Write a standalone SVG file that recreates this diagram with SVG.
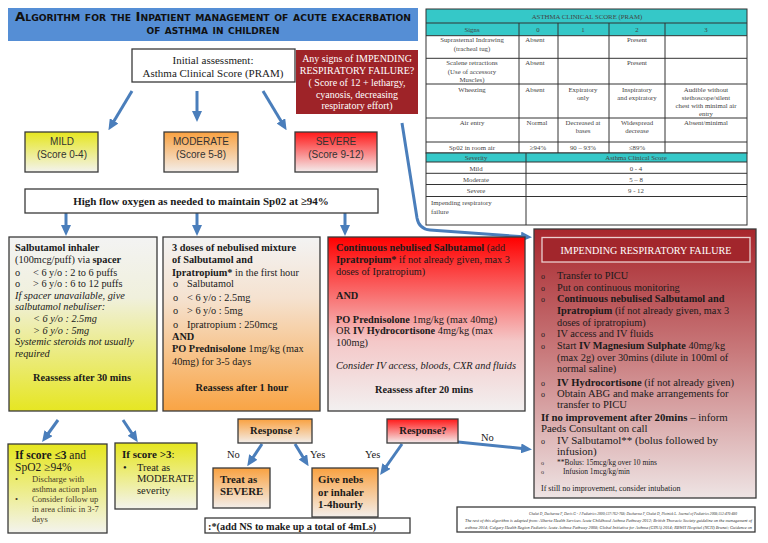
<svg xmlns="http://www.w3.org/2000/svg" width="768" height="543" viewBox="0 0 768 543" font-size="10.3">
<defs>
<style>
.t{font-family:"Liberation Serif","DejaVu Serif",serif;fill:#1a1a1a}
.b{font-weight:bold}
.i{font-style:italic}
.s{font-family:"Liberation Sans","DejaVu Sans",sans-serif;font-size:10px;fill:#333}
.c{text-anchor:middle}
.tt{font-family:"Liberation Serif","DejaVu Serif",serif;font-size:6.8px;fill:#444}
.box{stroke:#3a3a3a;stroke-width:1.3}
.grid{stroke:#333;stroke-width:1;fill:none}
.arr{stroke:#4a7ebb;stroke-width:3;fill:none;marker-end:url(#ah)}
.w{fill:#fff}
</style>
<marker id="ah" markerUnits="userSpaceOnUse" markerWidth="11" markerHeight="10" refX="6" refY="5" orient="auto">
<path d="M0,0 L11,5 L0,10 z" fill="#4a7ebb"/>
</marker>
<linearGradient id="gYT" x1="0" y1="0" x2="0" y2="1"><stop offset="0" stop-color="#e6e61e"/><stop offset="1" stop-color="#f3f3ee"/></linearGradient>
<linearGradient id="gYB" x1="0" y1="0" x2="0" y2="1"><stop offset="0" stop-color="#f3f3f3"/><stop offset="0.35" stop-color="#f0f0dc"/><stop offset="1" stop-color="#e6e622"/></linearGradient>
<linearGradient id="gOT" x1="0" y1="0" x2="0" y2="1"><stop offset="0" stop-color="#f9a140"/><stop offset="1" stop-color="#f3eeea"/></linearGradient>
<linearGradient id="gOB" x1="0" y1="0" x2="0" y2="1"><stop offset="0" stop-color="#f3f3f3"/><stop offset="0.35" stop-color="#f5e2d0"/><stop offset="1" stop-color="#f9a444"/></linearGradient>
<linearGradient id="gRT" x1="0" y1="0" x2="0" y2="1"><stop offset="0" stop-color="#ff1818"/><stop offset="1" stop-color="#f4eded"/></linearGradient>
<linearGradient id="gRS" x1="0" y1="0" x2="0" y2="1"><stop offset="0" stop-color="#ff0000"/><stop offset="0.6" stop-color="#f4c8c8"/><stop offset="1" stop-color="#f2f0f0"/></linearGradient>
<linearGradient id="gIM" x1="0" y1="0" x2="0" y2="1"><stop offset="0" stop-color="#a8262c"/><stop offset="0.45" stop-color="#c8787a"/><stop offset="1" stop-color="#eee4e4"/></linearGradient>
</defs>
<rect width="768" height="543" fill="#fff"/>

<g id="title">
<rect x="8" y="8" width="410" height="33" fill="#558ed5"/>
<text x="213" y="21" class="c" font-family="DejaVu Sans,sans-serif" font-weight="bold" font-size="11.5" font-variant="small-caps" fill="#111" textLength="396" lengthAdjust="spacingAndGlyphs">Algorithm for the Inpatient management of acute exacerbation</text>
<text x="213" y="34" class="c" font-family="DejaVu Sans,sans-serif" font-weight="bold" font-size="11.5" font-variant="small-caps" fill="#111" textLength="133" lengthAdjust="spacingAndGlyphs">of asthma in children</text>
</g>

<g id="pram-table">
<rect x="426" y="9" width="321" height="14" fill="#35c8c8"/>
<rect x="426" y="23" width="321" height="12.7" fill="#35c8c8"/>
<rect x="426" y="9" width="321" height="144" class="grid" stroke-width="1.3"/>
<path class="grid" d="M426,23H747M426,35.7H747M426,58.3H747M426,84H747M426,118H747M426,142H747M519,23V153M558,23V153M609,23V153M665,23V153"/>
<text class="tt c" x="587" y="18.5">ASTHMA CLINICAL SCORE (PRAM)</text>
<text class="tt c" x="472" y="31.5">Signs</text><text class="tt c" x="538" y="31.5">0</text><text class="tt c" x="583" y="31.5">1</text><text class="tt c" x="637" y="31.5">2</text><text class="tt c" x="706" y="31.5">3</text>
<text class="tt c" x="472" y="41.5">Suprasternal Indrawing</text><text class="tt c" x="472" y="51">(tracheal tug)</text>
<text class="tt c" x="535" y="41.5">Absent</text><text class="tt c" x="637" y="41.5">Present</text>
<text class="tt c" x="472" y="64.5">Scalene retractions</text><text class="tt c" x="472" y="73.5">(Use of accessory</text><text class="tt c" x="472" y="82">Muscles)</text>
<text class="tt c" x="535" y="64.5">Absent</text><text class="tt c" x="637" y="64.5">Present</text>
<text class="tt c" x="472" y="91.5">Wheezing</text><text class="tt c" x="535" y="91.5">Absent</text>
<text class="tt c" x="583" y="91.5">Expiratory</text><text class="tt c" x="583" y="100">only</text>
<text class="tt c" x="637" y="91.5">Inspiratory</text><text class="tt c" x="637" y="100">and expiratory</text>
<text class="tt c" x="706" y="91.5">Audible without</text><text class="tt c" x="706" y="99.5">stethoscope/silent</text><text class="tt c" x="706" y="107.5">chest with minimal air</text><text class="tt c" x="706" y="115.5">entry</text>
<text class="tt c" x="472" y="124.5">Air entry</text><text class="tt c" x="537" y="124.5">Normal</text>
<text class="tt c" x="583" y="124.5">Decreased at</text><text class="tt c" x="583" y="133">bases</text>
<text class="tt c" x="637" y="124.5">Widespread</text><text class="tt c" x="637" y="133">decrease</text>
<text class="tt c" x="706" y="124.5">Absent/minimal</text>
<text class="tt c" x="472" y="150">Sp02 in room air</text><text class="tt c" x="538" y="150">≥94%</text><text class="tt c" x="583" y="150">90 – 93%</text><text class="tt c" x="637" y="150">≤89%</text>
<rect x="426" y="153" width="321" height="9" fill="#35c8c8"/>
<rect x="426" y="153" width="321" height="72" class="grid" stroke-width="1.5"/>
<path class="grid" stroke-width="1.3" d="M426,162H747M426,173.3H747M426,184.5H747M426,196.5H747M526,153V225"/>
<text class="tt c" x="476" y="160">Severity</text><text class="tt c" x="636" y="160">Asthma Clinical Score</text>
<text class="tt c" x="476" y="170.5">Mild</text><text class="tt c" x="636" y="170.5">0 - 4</text>
<text class="tt c" x="476" y="181.5">Moderate</text><text class="tt c" x="636" y="181.5">5 – 8</text>
<text class="tt c" x="476" y="193">Severe</text><text class="tt c" x="636" y="193">9 - 12</text>
<text class="tt" x="431" y="205">Impending respiratory</text><text class="tt" x="431" y="213.5">failure</text>
</g>

<g id="connectors">
<path class="arr" d="M132,91 L111,126"/>
<path class="arr" d="M197,91 L197,117"/>
<path class="arr" d="M263,91 L284,126"/>
<path class="arr" d="M66,213 L66,231"/>
<path class="arr" d="M197,213 L197,231"/>
<path class="arr" d="M345,213 L345,231"/>
<path class="arr" d="M402,123 L417,218 Q419,229 430,230 L527,237"/>
<path class="arr" d="M58,420 L45,438"/>
<path class="arr" d="M123,420 L135,438"/>
<path class="arr" d="M262,444 L250,462"/>
<path class="arr" d="M295,444 L306,462"/>
<path class="arr" d="M402,444 L383,471"/>
<path class="arr" d="M458,442 L527,449"/>
</g>

<g id="initial-assessment">
<rect x="132" y="49" width="163" height="33" class="box" fill="#fff"/>
<text class="t c" font-size="11" x="213" y="63.5">Initial assessment:</text>
<text class="t c" font-size="11" x="213" y="76.5">Asthma Clinical Score (PRAM)</text>
</g>

<g id="impending-question">
<rect x="296" y="50" width="122" height="64" fill="#9e2328"/>
<text class="t c w" font-size="10" x="357" y="62">Any signs of IMPENDING</text>
<text class="t c w" font-size="10" x="357" y="74">RESPIRATORY FAILURE?</text>
<text class="t c w" font-size="10" x="357" y="86">( Score of 12 + lethargy,</text>
<text class="t c w" font-size="10" x="357" y="97.5">cyanosis, decreasing</text>
<text class="t c w" font-size="10" x="357" y="109">respiratory effort)</text>
</g>

<g id="mild">
<rect x="25" y="132" width="73" height="40" class="box" fill="url(#gYT)"/>
<text class="s c" x="62" y="145">MILD</text>
<text class="s c" x="62" y="158">(Score 0-4)</text>
</g>
<g id="moderate">
<rect x="164" y="132" width="74" height="40" class="box" fill="url(#gOT)"/>
<text class="s c" x="201" y="145">MODERATE</text>
<text class="s c" x="201" y="158">(Score 5-8)</text>
</g>
<g id="severe">
<rect x="295" y="132" width="82" height="40" class="box" fill="url(#gRT)"/>
<text class="s c" x="336" y="145">SEVERE</text>
<text class="s c" x="336" y="158">(Score 9-12)</text>
</g>

<g id="oxygen">
<rect x="25" y="189" width="353" height="24" class="box" fill="#fff"/>
<text class="t b c" font-size="11" x="201" y="205">High flow oxygen as needed to maintain Sp02 at ≥94%</text>
</g>

<g id="mild-treatment">
<rect x="9" y="237" width="148" height="174" class="box" fill="url(#gYB)"/>
<text class="t b" x="15" y="251">Salbutamol inhaler</text>
<text class="t" x="15" y="263">(100mcg/puff) via <tspan class="b">spacer</tspan></text>
<text class="t" x="15" y="275.5">o</text><text class="t" x="33" y="275.5">&lt; 6 y/o : 2 to 6 puffs</text>
<text class="t" x="15" y="287">o</text><text class="t" x="33" y="287">&gt; 6 y/o : 6 to 12 puffs</text>
<text class="t i" x="15" y="298.5">If spacer unavailable, give</text>
<text class="t i" x="15" y="310">salbutamol nebuliser:</text>
<text class="t" x="15" y="322">o</text><text class="t i" x="33" y="322">&lt; 6 y/o : 2.5mg</text>
<text class="t" x="15" y="333.5">o</text><text class="t i" x="33" y="333.5">&gt; 6 y/o : 5mg</text>
<text class="t i" x="15" y="345">Systemic steroids not usually</text>
<text class="t i" x="15" y="357">required</text>
<text class="t b c" x="82" y="380.5">Reassess after 30 mins</text>
</g>

<g id="moderate-treatment">
<rect x="163" y="237" width="157" height="174" class="box" fill="url(#gOB)"/>
<text class="t b" x="172" y="251">3 doses of nebulised mixture</text>
<text class="t b" x="172" y="263">of Salbutamol and</text>
<text class="t" x="172" y="275.5"><tspan class="b">Ipratropium*</tspan> in the first hour</text>
<text class="t" x="173" y="287">o</text><text class="t" x="187" y="287">Salbutamol</text>
<text class="t" x="173" y="300.5">o</text><text class="t" x="187" y="300.5">&lt; 6 y/o :  2.5mg</text>
<text class="t" x="173" y="314">o</text><text class="t" x="187" y="314">&gt; 6 y/o :  5mg</text>
<text class="t" x="173" y="327.5">o</text><text class="t" x="187" y="327.5">Ipratropium : 250mcg</text>
<text class="t b" x="172" y="340">AND</text>
<text class="t" x="172" y="352"><tspan class="b">PO Prednisolone</tspan> 1mg/kg (max</text>
<text class="t" x="172" y="365">40mg) for 3-5 days</text>
<text class="t b c" x="242" y="390.5">Reassess after 1 hour</text>
</g>

<g id="severe-treatment">
<rect x="328" y="237" width="197" height="174" class="box" fill="url(#gRS)"/>
<text class="t" x="336" y="251"><tspan class="b">Continuous nebulised Salbutamol</tspan> (add</text>
<text class="t" x="336" y="263"><tspan class="b">Ipratropium*</tspan> if not already given, max 3</text>
<text class="t" x="336" y="274.5">doses of Ipratropium)</text>
<text class="t b" x="336" y="298.5">AND</text>
<text class="t" x="336" y="322.5"><tspan class="b">PO Prednisolone</tspan> 1mg/kg (max 40mg)</text>
<text class="t" x="336" y="334">OR <tspan class="b">IV Hydrocortisone</tspan> 4mg/kg (max</text>
<text class="t" x="336" y="345.5">100mg)</text>
<text class="t i" x="336" y="368.5">Consider IV access, bloods, CXR and fluids</text>
<text class="t b c" x="424" y="392.5">Reassess after 20 mins</text>
</g>

<g id="impending-failure">
<rect x="534" y="229" width="222" height="269" class="box" fill="url(#gIM)"/>
<rect x="542" y="237.5" width="208" height="24.5" fill="#a2262c" stroke="#ecd0d0" stroke-width="1.3"/>
<text x="646" y="253.5" class="t c w" font-size="10" textLength="171" lengthAdjust="spacingAndGlyphs">IMPENDING RESPIRATORY FAILURE</text>
<g class="t">
<text x="541" y="278.5" font-size="8">o</text><text x="557" y="278.5">Transfer to PICU</text>
<text x="541" y="290.5" font-size="8">o</text><text x="557" y="290.5">Put on continuous monitoring</text>
<text x="541" y="302" font-size="8">o</text><text x="557" y="302" class="b">Continuous nebulised Salbutamol and</text>
<text x="557" y="313.5"><tspan class="b">Ipratropium</tspan> (if not already given, max 3</text>
<text x="557" y="325.5">doses of ipratropium)</text>
<text x="541" y="336.5" font-size="8">o</text><text x="557" y="336.5">IV access and IV fluids</text>
<text x="541" y="348.5" font-size="8">o</text><text x="557" y="348.5">Start <tspan class="b">IV Magnesium Sulphate</tspan> 40mg/kg</text>
<text x="557" y="360.5">(max 2g) over 30mins (dilute in 100ml of</text>
<text x="557" y="372">normal saline)</text>
<text x="541" y="385.5" font-size="8">o</text><text x="557" y="385.5" font-size="10.6"><tspan class="b">IV Hydrocortisone</tspan> (if not already given)</text>
<text x="541" y="397" font-size="8">o</text><text x="557" y="397" font-size="10.6">Obtain ABG and make arrangements for</text>
<text x="557" y="408" font-size="10.6">transfer to PICU</text>
<text x="541" y="420.5" font-size="10.8"><tspan class="b">If no improvement after 20mins</tspan> – inform</text>
<text x="541" y="432" font-size="10.8">Paeds Consultant on call</text>
<text x="541" y="443.5" font-size="8">o</text><text x="557" y="443.5" font-size="11">IV Salbutamol** (bolus followed by</text>
<text x="557" y="455" font-size="11">infusion)</text>
<text x="541" y="465" font-size="6">o</text><text x="557" y="465" font-size="7.5">**Bolus: 15mcg/kg over 10 mins</text>
<text x="541" y="473.5" font-size="6">o</text><text x="563" y="473.5" font-size="7.5">Infusion 1mcg/kg/min</text>
<text x="541" y="491" font-size="8">If still no improvement, consider intubation</text>
</g>
</g>

<g id="discharge">
<rect x="8" y="444" width="99" height="89" class="box" fill="url(#gYT)"/>
<text class="t" font-size="11.5" x="15" y="459"><tspan class="b">If score ≤3</tspan> and</text>
<text class="t" font-size="11.5" x="15" y="471">SpO2 ≥94%</text>
<g class="t" font-size="8.6" style="fill:#4a3c28">
<text x="15" y="481.5">•</text><text x="32" y="481.5">Discharge with</text>
<text x="32" y="491.5">asthma action plan</text>
<text x="15" y="501.5">•</text><text x="32" y="501.5">Consider follow up</text>
<text x="32" y="511.5">in area clinic in 3-7</text>
<text x="32" y="521.5">days</text>
</g>
</g>

<g id="score-gt3">
<rect x="115" y="443" width="82" height="66" class="box" fill="url(#gYT)"/>
<text class="t" font-size="11" x="122" y="458"><tspan class="b">If score &gt;3</tspan>:</text>
<text class="t" font-size="10.5" x="123" y="470.5">•</text><text class="t" font-size="10.5" x="137" y="470.5">Treat as</text>
<text class="t" font-size="10.5" x="137" y="482">MODERATE</text>
<text class="t" font-size="10.5" x="137" y="494">severity</text>
</g>

<g id="response-moderate">
<rect x="238" y="419" width="74" height="24" class="box" fill="url(#gOT)"/>
<text class="t b c" font-size="10.5" x="275" y="434">Response ?</text>
</g>
<text class="t" font-size="10.5" x="227" y="458">No</text>
<text class="t" font-size="10.5" x="310" y="458">Yes</text>

<g id="treat-severe">
<rect x="213" y="468" width="57" height="40" class="box" fill="url(#gOT)"/>
<text class="t b" font-size="10.8" x="220" y="483">Treat as</text>
<text class="t b" font-size="10.8" x="220" y="495">SEVERE</text>
</g>

<g id="give-nebs">
<rect x="312" y="468" width="66" height="49" class="box" fill="url(#gOT)"/>
<text class="t b" font-size="10.8" x="318" y="483">Give nebs</text>
<text class="t b" font-size="10.8" x="318" y="495.5">or inhaler</text>
<text class="t b" font-size="10.8" x="318" y="508">1-4hourly</text>
</g>

<g id="response-severe">
<rect x="387" y="419" width="71" height="24" class="box" fill="url(#gRT)"/>
<text class="t b c" font-size="10.5" x="423" y="434">Response?</text>
</g>
<text class="t" font-size="10.5" x="365" y="458">Yes</text>
<text class="t" font-size="10.5" x="481" y="441">No</text>

<g id="footnote">
<rect x="205" y="518" width="205" height="15" class="box" fill="#fff"/>
<text class="t b" font-size="10.3" x="208" y="529.5">:*(add NS to make up a total of 4mLs)</text>
</g>

<g id="citation">
<rect x="457" y="507" width="298" height="25" class="box" fill="#fff"/>
<g class="t i" font-size="4.2" style="fill:#333">
<text x="529" y="515" font-size="3.7" textLength="208" lengthAdjust="spacingAndGlyphs">Chalut D, Ducharme F, Davis G - J Pediatrics 2000;137:762-768; Ducharme F, Chalut D, Plotnick L. Journal of Pediatrics 2008;152:476-480</text>
<text x="465" y="522" textLength="287" lengthAdjust="spacingAndGlyphs">The rest of this algorithm is adapted from: Alberta Health Services Acute Childhood Asthma Pathway 2012; British Thoracic Society guideline on the management of</text>
<text x="465" y="529" textLength="287" lengthAdjust="spacingAndGlyphs">asthma 2014; Calgary Health Region Pediatric Acute Asthma Pathway 2008; Global Initiative for Asthma (GINA) 2014; RBWH Hospital (NCH) Brunei; Guidance on</text>
</g>
</g>
</svg>
